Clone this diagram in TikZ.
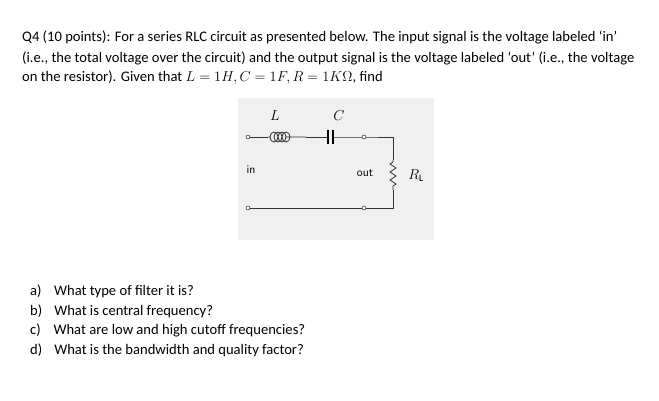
\documentclass[tikz,border=0pt]{standalone}
\usepackage{fontspec}
\setmainfont{Carlito}
\usepackage[siunitx]{circuitikz}
\begin{document}
\begin{tikzpicture}[x=1pt,y=-1pt,
  txt/.style={anchor=west,inner sep=0pt,font=\fontsize{14.6}{17}\selectfont},
  lab/.style={inner sep=0pt,font=\fontsize{12}{14}\selectfont\sffamily},
  term/.style={circle,draw,fill=white,inner sep=0pt,minimum size=4pt},
  wire/.style={line width=0.8pt,draw=black!80}]
\useasboundingbox (0,0) rectangle (659,401);
\node[txt] (t1) at (22,37) {Q4 (10 points): For a series RLC circuit as presented below. The input signal is the voltage labeled ‘in’};
\node[txt] (t2) at (22,58) {(i.e., the total voltage over the circuit) and the output signal is the voltage labeled ‘out’ (i.e., the voltage};
\node[txt] (t3) at (22,78) {on the resistor). Given that $L=1H, C=1F, R=1K\Omega$, find};
\fill[black!6] (238,98) rectangle (434,240);
\coordinate (tr) at (393,137);
\coordinate (br) at (393,208);
\draw[wire] (248,137) -- (268,137);
\draw[wire] (306,137) -- (327,137);
\draw[wire] (333,137) -- (364,137) -- (tr);
\draw[wire] (tr) -- (393,160);
\draw[wire] (393,190) -- (br) -- (248,208);
% inductor
\draw[wire] (268,137) -- (270,137) foreach \i in {0,...,3}{ arc[start angle=180,end angle=-180,x radius=4,y radius=5] ++(4,0)} -- (306,137);
\draw[line width=1.6pt] (328,130) -- (328,144) (333,130) -- (333,144);
% resistor
\draw[wire] (393,160) -- (393,162) -- (390,164) -- (396,168) -- (390,172) -- (396,176) -- (390,180) -- (396,184) -- (393,186) -- (393,190);
\node[term] (a) at (248,137) {};
\node[term] (b) at (364,137) {};
\node[term] (c) at (248,208) {};
\node[term] (d) at (364,208) {};
\node (lL) at (275,116) {\fontsize{14}{16}\selectfont$L$};
\node (lC) at (339,116) {\fontsize{14}{16}\selectfont$C$};
\node (lR) at (416,176) {\fontsize{14}{16}\selectfont$R_{\mathrm{L}}$};
\node[lab] (lin) at (251,170) {in};
\node[lab] (lout) at (365,173) {out};
\node[txt] (a1) at (30,291) {a)\hspace{12.5pt}What type of filter it is?};
\node[txt] (a2) at (30,311) {b)\hspace{12pt}What is central frequency?};
\node[txt] (a3) at (30,330) {c)\hspace{12.8pt}What are low and high cutoff frequencies?};
\node[txt] (a4) at (30,350) {d)\hspace{12pt}What is the bandwidth and quality factor?};
\end{tikzpicture}
\end{document}
